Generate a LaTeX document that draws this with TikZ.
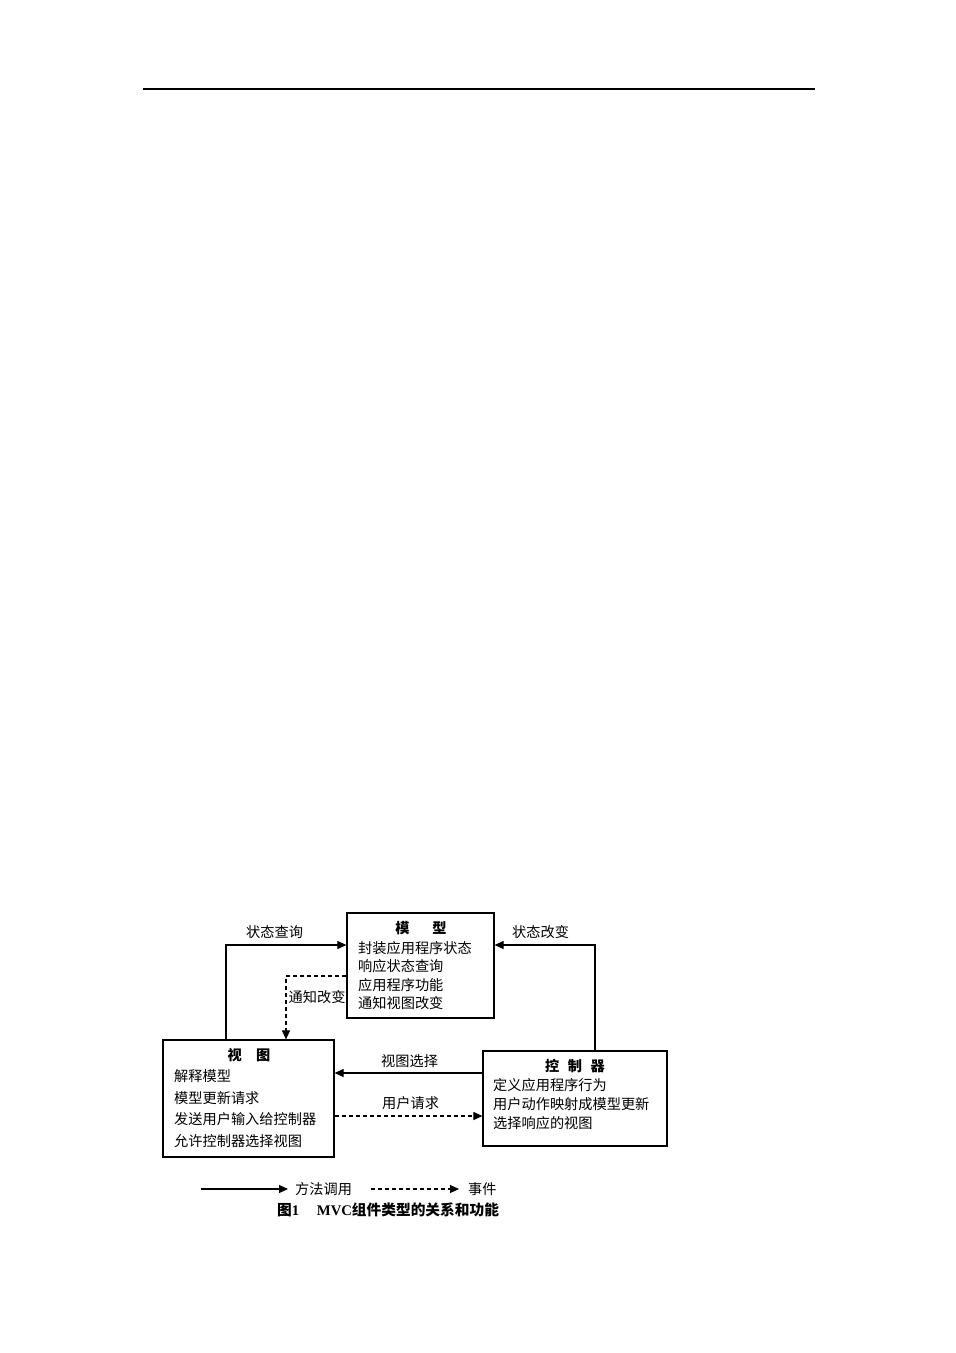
\documentclass[tikz,border=0pt]{standalone}
\usepackage{fontspec}
\setmainfont{Noto Sans CJK SC}
\newfontfamily\latinserif{Liberation Serif}
\usetikzlibrary{arrows.meta}
\tikzset{
  box/.style={draw, line width=1.2pt, rectangle, inner sep=0pt, fill=white},
  txt/.style={inner sep=0pt, anchor=west, font=\fontsize{14.2}{16}\selectfont},
  ttl/.style={inner sep=0pt, font=\fontsize{14.2}{16}\selectfont\bfseries},
  call/.style={line width=1.1pt, -{Triangle[length=9pt,width=8pt]}},
  event/.style={line width=1.1pt, dash pattern=on 4pt off 3pt, -{Triangle[length=9pt,width=8pt]}},
}
\begin{document}
\begin{tikzpicture}[x=1pt,y=-1pt]
\useasboundingbox[fill=white] (0,0) rectangle (956,1353);
% header rule
\coordinate (ra) at (143,89);
\coordinate (rb) at (815,89);
\draw[line width=1.3pt] (ra) -- (rb);
% boxes
\node[box, minimum width=147pt, minimum height=105pt] (model) at (420.5,965.5) {};
\node[box, minimum width=171pt, minimum height=117pt] (view) at (248.5,1098.5) {};
\node[box, minimum width=184pt, minimum height=95pt] (ctrl) at (575,1098.5) {};
% model text
\node[ttl] (mt) at (421,928) {模\hspace{1.6em}型};
\node[txt] (m1) at (358,948) {封装应用程序状态};
\node[txt] (m2) at (358,966.5) {响应状态查询};
\node[txt] (m3) at (358,985) {应用程序功能};
\node[txt] (m4) at (358,1003.5) {通知视图改变};
% view text
\node[ttl] (vt) at (249,1055) {视\hspace{1em}图};
\node[txt] (v1) at (174,1076.5) {解释模型};
\node[txt] (v2) at (174,1098) {模型更新请求};
\node[txt] (v3) at (174,1119.5) {发送用户输入给控制器};
\node[txt] (v4) at (174,1141) {允许控制器选择视图};
% controller text
\node[ttl] (ct) at (575,1066) {控\hspace{0.6em}制\hspace{0.6em}器};
\node[txt] (c1) at (493,1085.5) {定义应用程序行为};
\node[txt] (c2) at (493,1104.5) {用户动作映射成模型更新};
\node[txt] (c3) at (493,1123.5) {选择响应的视图};
% connectors
\coordinate (sq) at (226,945);
\draw[call] (view.north -| sq) -- (sq) -- (model.west |- sq);
\node[txt] (lsq) at (246,932) {状态查询};
\coordinate (sc) at (595,945);
\draw[call] (ctrl.north -| sc) -- (sc) -- (model.east |- sc);
\node[txt] (lsc) at (512,932) {状态改变};
\coordinate (nc) at (286,976);
\draw[event] (model.west |- nc) -- (nc) -- (view.north -| nc);
\node[txt] (lnc) at (288.5,997) {通知改变};
\coordinate (vs) at (0,1073);
\draw[call] (ctrl.west |- vs) -- (view.east |- vs);
\node[txt] (lvs) at (381,1061) {视图选择};
\coordinate (ur) at (0,1116);
\draw[event] (view.east |- ur) -- (ctrl.west |- ur);
\node[txt] (lur) at (382,1103) {用户请求};
% legend
\coordinate (la) at (201,1189);
\coordinate (lb) at (288,1189);
\draw[call] (la) -- (lb);
\node[txt] (lm) at (295,1189) {方法调用};
\coordinate (lc) at (371,1189);
\coordinate (ld) at (459,1189);
\draw[event] (lc) -- (ld);
\node[txt] (le) at (468,1189) {事件};
% caption
\node[txt, font=\fontsize{14.7}{16}\selectfont\bfseries] (cap) at (277,1210) {图{\latinserif 1}\hspace{1.2em}{\latinserif MVC}组件类型的关系和功能};
\end{tikzpicture}
\end{document}
